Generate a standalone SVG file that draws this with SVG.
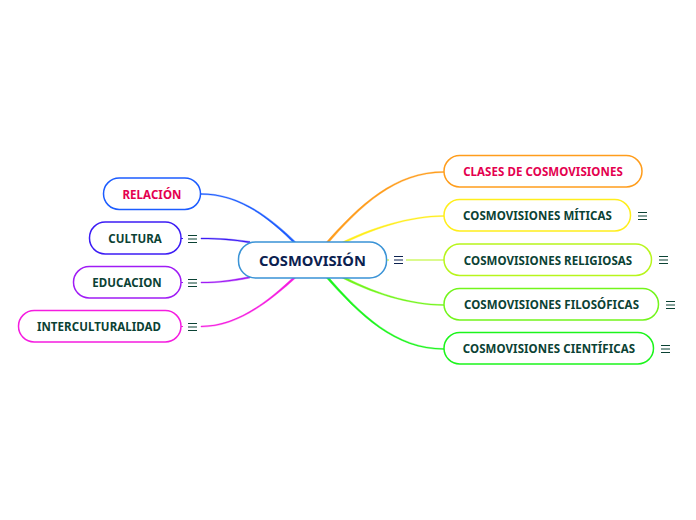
<svg xmlns="http://www.w3.org/2000/svg" width="696" height="520" viewBox="0 0 696 520">
<style>
.n{fill:#fff;stroke-width:1.5}
text{font-family:"Noto Sans","Open Sans",sans-serif;font-weight:700;text-anchor:middle;letter-spacing:.07px}
.t{font-size:11.5px;fill:#0b4234}
.r{font-size:11.5px;fill:#e4004f}
.m{font-size:14.7px;fill:#0b2150;letter-spacing:0}
.i{stroke:#0b4234;stroke-width:1;fill:none}
.s{fill:none;stroke-width:1.1}
.c{stroke-width:.4;stroke-linejoin:round}
</style>
<rect width="696" height="520" fill="#fff"/>
<g id="connectors">
<path class="c" d="M324.200 244.500C360 204 395 171.500 444 171.500V172.500C396 172.500 361 205 325.800 246Z" fill="#ff9d1c" stroke="#ff9d1c"/>
<path class="c" d="M338.500 244C370 228 410 215.500 444 215.500V216.500C410 216.500 371 229 339.500 246Z" fill="#ffee1c" stroke="#ffee1c"/>
<path d="M387 260H389M406 260H444" class="s" stroke="#b8f51c"/>
<path class="c" d="M339.500 274C371 292 410 304.500 444 304.500V305.500C410 305.500 370 293 338.500 276Z" fill="#73f51c" stroke="#73f51c"/>
<path class="c" d="M325.800 274C361 315 396 348.500 444 348.500V349.500C395 349.500 360 316 324.200 275.500Z" fill="#1cf51c" stroke="#1cf51c"/>
<path class="c" d="M297.800 244C265 211.500 235 193.500 201 193.500V194.500C235 194.500 264 212.500 296.200 245.500Z" fill="#1c5cff" stroke="#1c5cff"/>
<path class="c" d="M250 241.500C232 239 220 238 201 238V239C220 239 232 240 250 243Z" fill="#3c1cf5" stroke="#3c1cf5"/>
<path d="M181 238.500H183" class="s" stroke="#3c1cf5"/>
<path d="M181 282.500H183" class="s" stroke="#a01cf5"/>
<path d="M181 326.500H183" class="s" stroke="#f51ce0"/>
<path class="c" d="M250 276.500C232 280 220 282 201 282V283C220 283 232 281.500 250 278Z" fill="#a01cf5" stroke="#a01cf5"/>
<path class="c" d="M296.200 274.500C265 304.500 235 326 201 326V327C235 327 265 306 297.800 276Z" fill="#f51ce0" stroke="#f51ce0"/>
</g>
<g id="root"><rect class="n" x="238.500" y="242" width="148" height="36" rx="17" stroke="#3a93d6"/><text class="m" x="312.500" y="265.500">COSMOVISIÓN</text><path d="M394 256.500H403M394 260H403M394 263.500H403" class="i" style="stroke:#0b2150"/></g>
<g id="n-clases"><rect class="n" x="444" y="155.500" width="198" height="31.500" rx="15.700" stroke="#ff9d1c"/><text class="r" x="543" y="176">CLASES DE COSMOVISIONES</text></g>
<g id="n-miticas"><rect class="n" x="444" y="199.500" width="186.500" height="31.500" rx="15.700" stroke="#ffee1c"/><text class="t" x="537.500" y="220">COSMOVISIONES MÍTICAS</text><path d="M638 212.500H647M638 216H647M638 219.500H647" class="i"/></g>
<g id="n-religiosas"><rect class="n" x="444" y="244" width="207.500" height="31.500" rx="15.700" stroke="#b8f51c"/><text class="t" x="548" y="264.500">COSMOVISIONES RELIGIOSAS</text><path d="M659 256.500H668M659 260H668M659 263.500H668" class="i"/></g>
<g id="n-filosoficas"><rect class="n" x="444" y="288.500" width="214.500" height="31.500" rx="15.700" stroke="#73f51c"/><text class="t" x="551.500" y="309">COSMOVISIONES FILOSÓFICAS</text><path d="M666 301.500H675M666 305H675M666 308.500H675" class="i"/></g>
<g id="n-cientificas"><rect class="n" x="444" y="332.500" width="209.500" height="31.500" rx="15.700" stroke="#1cf51c"/><text class="t" x="549" y="353">COSMOVISIONES CIENTÍFICAS</text><path d="M661 345.500H670M661 349H670M661 352.500H670" class="i"/></g>
<g id="n-relacion"><rect class="n" x="103.500" y="178" width="97" height="31.500" rx="15.700" stroke="#1c5cff"/><text class="r" x="152" y="198.500">RELACIÓN</text></g>
<g id="n-cultura"><rect class="n" x="89.500" y="222" width="91.500" height="32" rx="15.700" stroke="#3c1cf5"/><text class="t" x="135" y="243">CULTURA</text><path d="M188 235.500H197M188 239H197M188 242.500H197" class="i"/></g>
<g id="n-educacion"><rect class="n" x="73.500" y="266.500" width="107.500" height="31.500" rx="15.700" stroke="#a01cf5"/><text class="t" x="127" y="287">EDUCACION</text><path d="M188 279.500H197M188 283H197M188 286.500H197" class="i"/></g>
<g id="n-inter"><rect class="n" x="18.500" y="310.500" width="162.500" height="31.500" rx="15.700" stroke="#f51ce0"/><text class="t" x="99" y="331">INTERCULTURALIDAD</text><path d="M188 323.500H197M188 327H197M188 330.500H197" class="i"/></g>
</svg>
